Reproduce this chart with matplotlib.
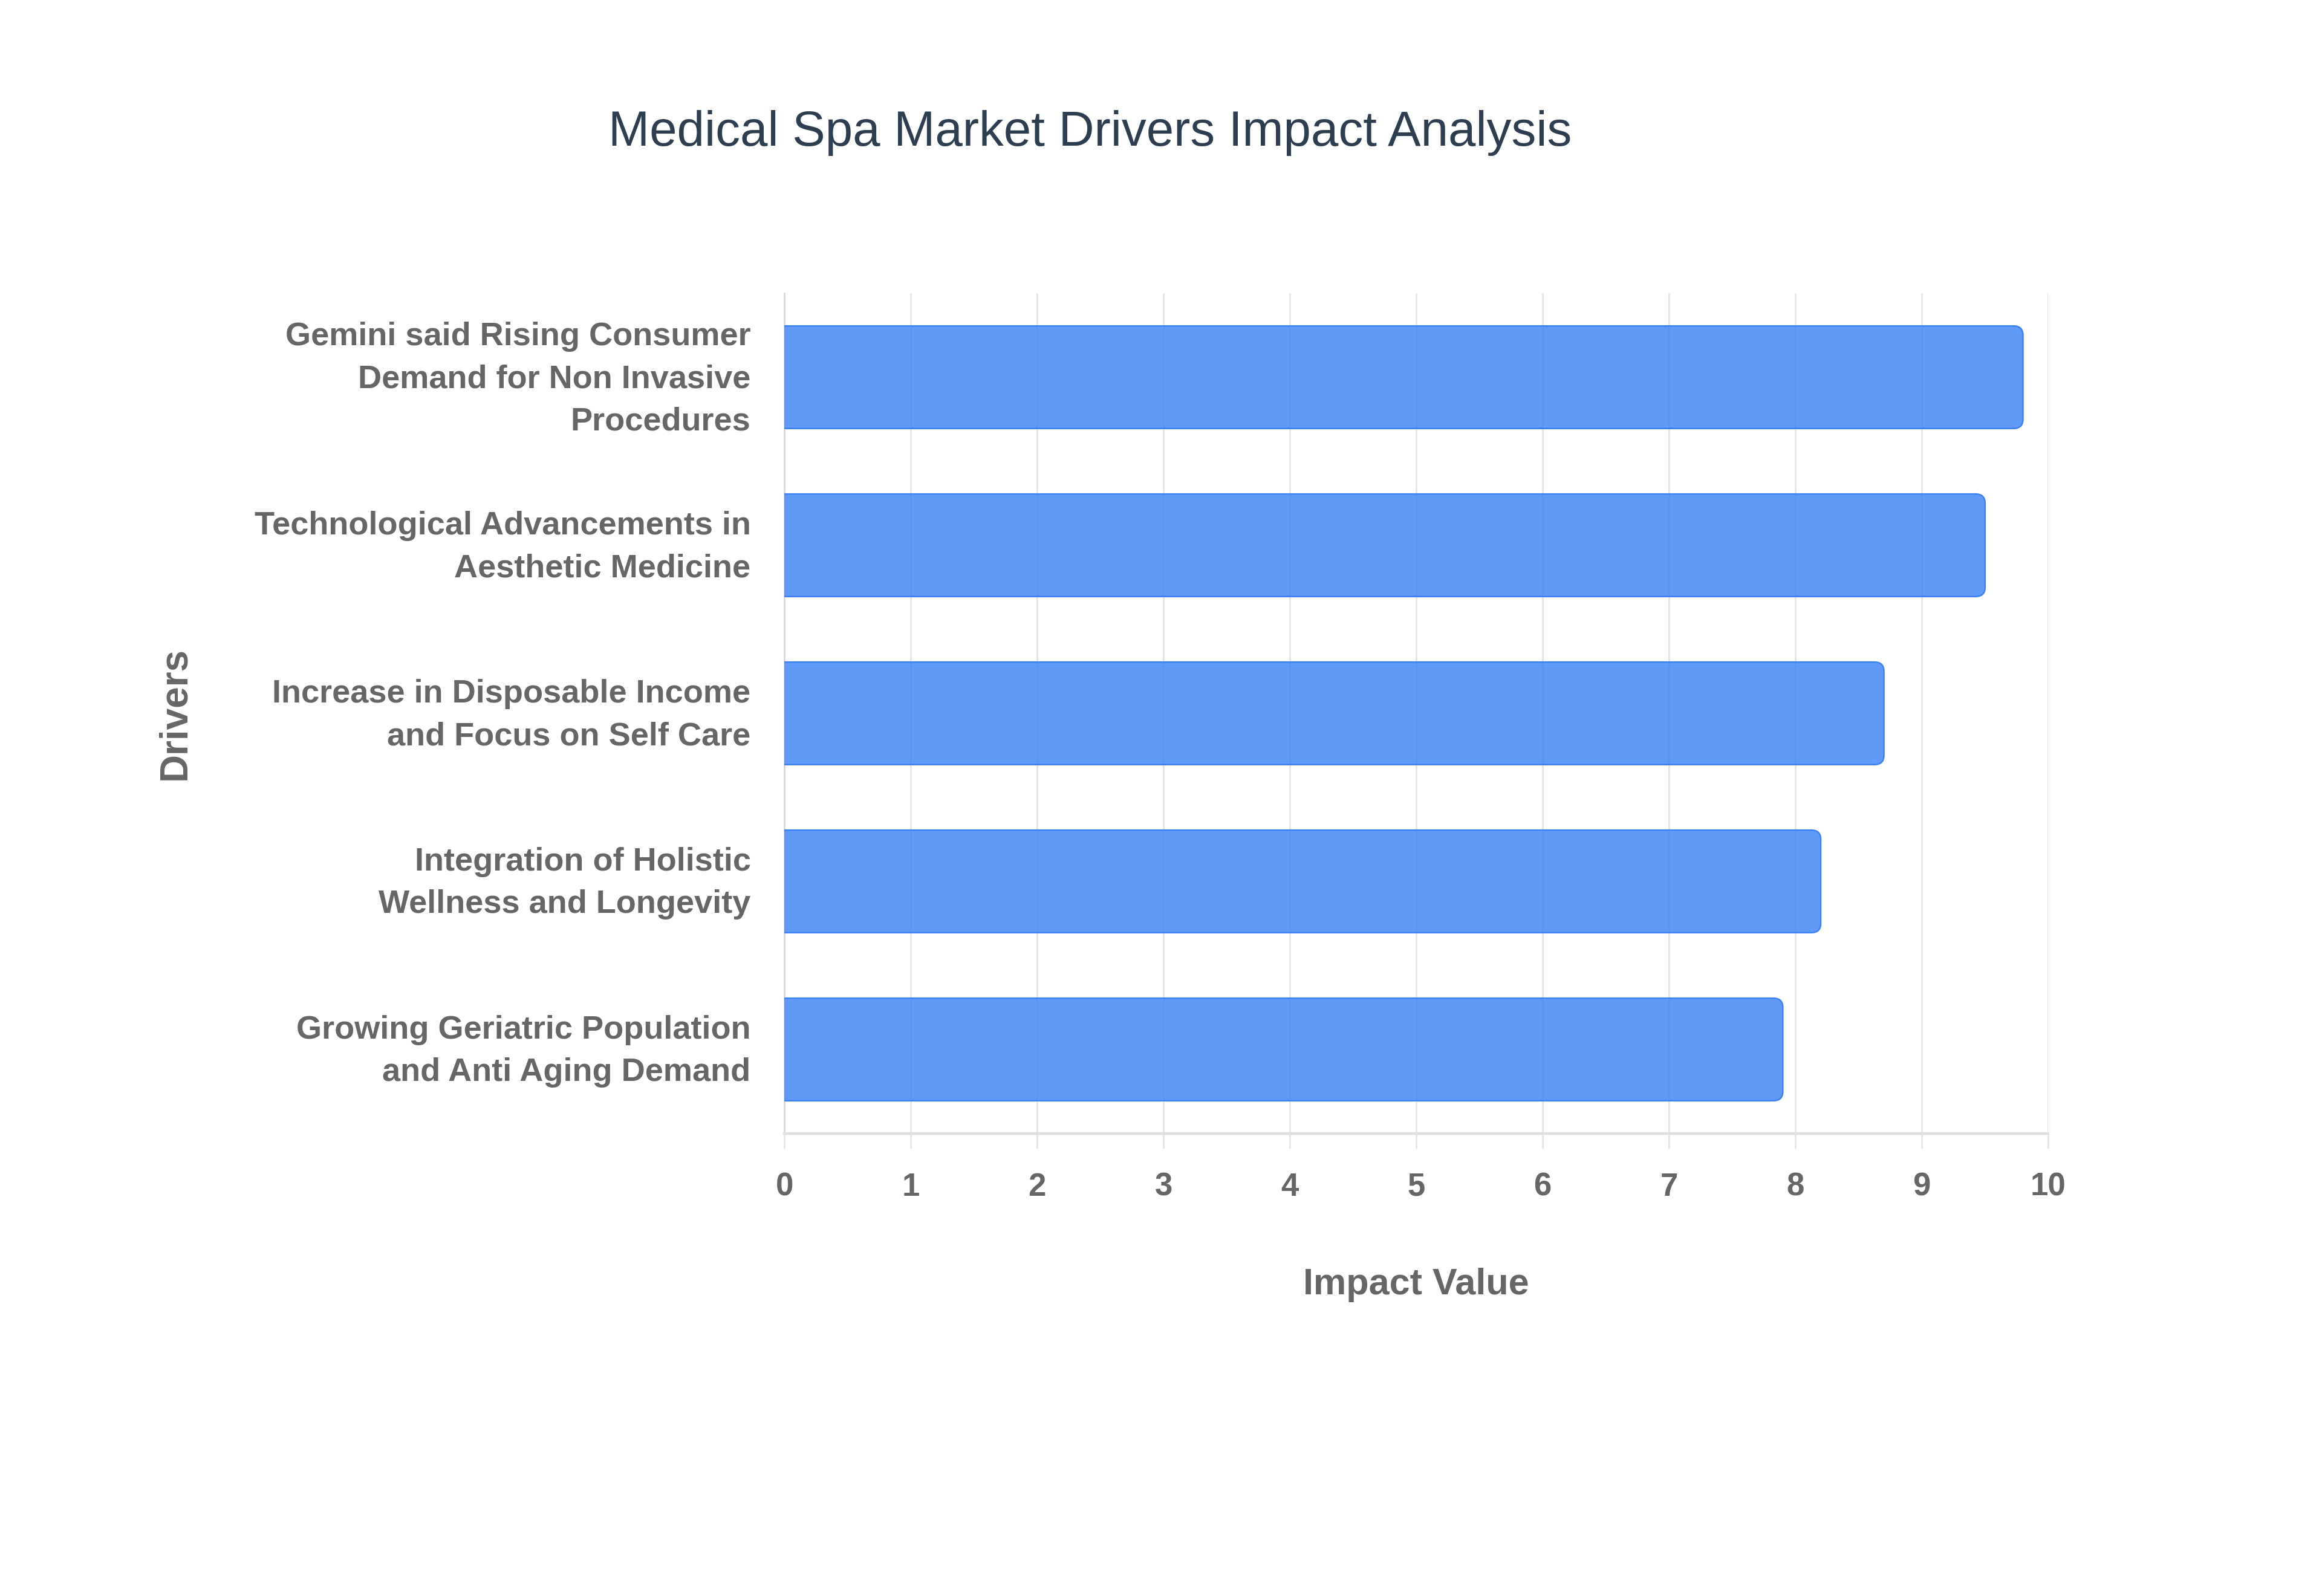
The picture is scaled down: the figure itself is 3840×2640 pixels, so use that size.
import matplotlib
matplotlib.use("Agg")
import matplotlib.pyplot as plt
from matplotlib.patches import FancyBboxPatch
from matplotlib.transforms import ScaledTranslation

plt.rcParams["font.family"] = ["Liberation Sans", "DejaVu Sans"]

# data, top to bottom
drivers = [
    "Gemini said Rising Consumer\nDemand for Non Invasive\nProcedures",
    "Technological Advancements in\nAesthetic Medicine",
    "Increase in Disposable Income\nand Focus on Self Care",
    "Integration of Holistic\nWellness and Longevity",
    "Growing Geriatric Population\nand Anti Aging Demand",
]
impact = [9.8, 9.5, 8.7, 8.2, 7.9]
x_ticks = list(range(0, 11))

BAR_FACE = (59 / 255, 130 / 255, 246 / 255, 0.8)
BAR_EDGE = (59 / 255, 130 / 255, 246 / 255, 1.0)
GRID = "#e6e6e6"
LABEL = "#666666"
TITLE = "#2c3e50"

fig = plt.figure(figsize=(19.2, 13.2), dpi=200)
ax = fig.add_axes([0.3378, 0.2898, 0.5443, 0.5265])

bars = ax.barh(drivers, impact, height=0.61, color=BAR_FACE)

# swap plain rectangles for ones with rounded ends (left end hidden by clipping)
rad_x = 0.075
for rect in bars:
    rect.set_visible(False)
    x0, y0 = rect.get_x(), rect.get_y()
    w, h = rect.get_width(), rect.get_height()
    patch = FancyBboxPatch(
        (x0 - 3 * rad_x, y0), w + 3 * rad_x, h,
        boxstyle=f"round,pad=0,rounding_size={rad_x}",
        mutation_aspect=0.73,
        facecolor=BAR_FACE, edgecolor=BAR_EDGE, linewidth=0.9,
        zorder=3,
    )
    ax.add_patch(patch)

ax.set_xlim(0, 10)
ax.set_ylim(len(drivers) - 0.5, -0.5)
ax.set_xticks(x_ticks)
ax.set_xticklabels([str(t) for t in x_ticks])

ax.grid(axis="x", color=GRID, linewidth=1.1, zorder=0)
ax.grid(axis="y", visible=False)
ax.set_axisbelow(True)

for side in ("top", "right"):
    ax.spines[side].set_visible(False)
ax.spines["left"].set_color("#dcdcdc")
ax.spines["left"].set_linewidth(1.1)
ax.spines["bottom"].set_color("#e0e0e0")
ax.spines["bottom"].set_linewidth(1.6)

ax.tick_params(axis="x", length=9, width=1.1, color=GRID, pad=14,
               labelsize=19, labelcolor=LABEL)
ax.tick_params(axis="y", length=0, pad=20, labelsize=19.5, labelcolor=LABEL)
for lab in ax.get_xticklabels():
    lab.set_fontweight("bold")
# nudge driver labels up a touch so they sit centred on the bars
lift = ScaledTranslation(0, 4.5 / 72, fig.dpi_scale_trans)
for lab in ax.get_yticklabels():
    lab.set_fontweight("bold")
    lab.set_linespacing(1.52)
    lab.set_transform(lab.get_transform() + lift)

ax.set_xlabel("Impact Value", fontsize=22, fontweight="bold", color=LABEL, va="center")
ax.xaxis.set_label_coords(0.5, -0.18)
ax.set_ylabel("Drivers", fontsize=23, fontweight="bold", color=LABEL, va="center")
ax.yaxis.set_label_coords(-0.482, 0.5)

fig.text(0.4695, 0.9087, "Medical Spa Market Drivers Impact Analysis",
         ha="center", va="baseline", fontsize=29.4, color=TITLE)

fig.savefig("out.png", dpi=200, facecolor="white")
